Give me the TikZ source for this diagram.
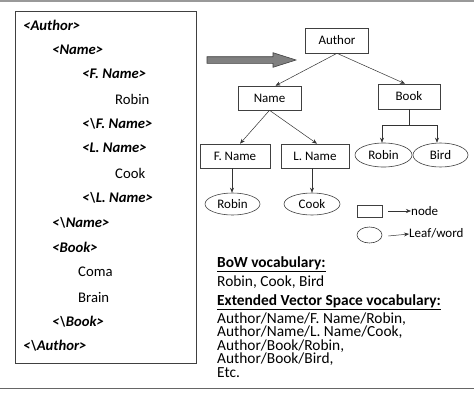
\documentclass[tikz,border=0pt]{standalone}
\usepackage{fontspec}
\setmainfont{Carlito}
\usetikzlibrary{arrows.meta,shapes.geometric}
\begin{document}
\begin{tikzpicture}[x=1pt,y=-1pt,
  tag/.style={anchor=west,inner sep=0pt,font=\fontsize{14.7}{16}\selectfont\bfseries\itshape},
  word/.style={anchor=west,inner sep=0pt,font=\fontsize{14.7}{16}\selectfont},
  tbox/.style={draw=black!75,line width=0.6pt,minimum height=24pt,inner sep=1pt,font=\fontsize{13}{14}\selectfont},
  tell/.style={draw=black!75,line width=0.6pt,ellipse,minimum height=22pt,inner sep=0pt,font=\fontsize{13}{14}\selectfont},
  edge/.style={draw=black!80,line width=0.5pt},
  arr/.style={edge,-{Stealth[length=5pt,width=4pt]}},
  txt/.style={anchor=base west,inner sep=0pt,text height=9pt,text depth=2.5pt,font=\fontsize{15.4}{13.5}\selectfont}
]
\useasboundingbox (0,0) rectangle (474,402);
\fill[white] (0,0) rectangle (474,402);
% top and bottom rules
\fill[black!40] (0,0) rectangle (474,2);
\draw[black!60,line width=0.8pt] (0,388) -- (474,388);
% left XML box
\node[draw=black!75,line width=0.6pt,minimum width=181pt,minimum height=352pt,inner sep=0pt] (xml) at (105.5,187) {};
\node[tag] (t1) at (23,25) {<Author>};
\node[tag] (t2) at (52,50) {<Name>};
\node[tag] (t3) at (82,74) {<F. Name>};
\node[word] (t4) at (115,99) {Robin};
\node[tag] (t5) at (82,124) {<\textbackslash F. Name>};
\node[tag] (t6) at (82,148) {<L. Name>};
\node[word] (t7) at (115,173) {Cook};
\node[tag] (t8) at (82,198) {<\textbackslash L. Name>};
\node[tag] (t9) at (52,223) {<\textbackslash Name>};
\node[tag] (t10) at (52,247) {<Book>};
\node[word] (t11) at (78,272) {Coma};
\node[word] (t12) at (78,297) {Brain};
\node[tag] (t13) at (52,322) {<\textbackslash Book>};
\node[tag] (t14) at (23,346) {<\textbackslash Author>};
% big arrow
\draw[black!75,fill=black!50,line width=0.6pt] (207,56.7) -- (273,56.7) -- (273,52.7) -- (296,60) -- (273,67.3) -- (273,63.3) -- (207,63.3) -- cycle;
% tree
\node[tbox,minimum width=63pt,minimum height=25pt] (au) at (337,40.5) {Author};
\node[tbox,minimum width=63pt] (nm) at (269.5,98) {Name};
\node[tbox,minimum width=62pt,minimum height=25pt] (bk) at (409,96.5) {Book};
\node[tbox,minimum width=70pt] (fn) at (235,156) {F. Name};
\node[tbox,minimum width=68pt] (ln) at (315,156) {L. Name};
\node[tell,minimum width=57pt,minimum height=24pt] (rb) at (383.5,155) {Robin};
\node[tell,minimum width=55pt,minimum height=24pt] (bd) at (440.5,155) {Bird};
\node[tell,minimum width=55pt] (r1) at (232.5,204) {Robin};
\node[tell,minimum width=56pt] (ck) at (312,204) {Cook};
\draw[arr] (au.south) -- ([xshift=6pt]nm.north);
\draw[arr] (au.south) -- ([xshift=-4pt]bk.north);
\draw[arr] (nm.south) -- ([xshift=5pt]fn.north);
\draw[arr] (nm.south) -- ([xshift=2pt]ln.north);
\draw[edge] (bk.south) -- ++(0,16) coordinate (bj);
\draw[edge] ([xshift=-1.5pt]bj -| rb) -- ([xshift=-3.5pt]bj -| bd);
\draw[arr] ([xshift=-1.5pt]bj -| rb) -- ([xshift=-1.5pt]rb.north);
\draw[arr] ([xshift=-3.5pt]bj -| bd) -- ([xshift=-3.5pt]bd.north);
\draw[arr] ([xshift=-3pt]fn.south) -- ([xshift=-0.5pt]r1.north);
\draw[arr] ([xshift=-3pt]ln.south) -- (ck.north);
% legend
\node[draw=black!75,line width=0.6pt,minimum width=25pt,minimum height=12pt,inner sep=0pt] (lr) at (369.5,211) {};
\node[draw=black!75,line width=0.6pt,ellipse,minimum width=25pt,minimum height=16pt,inner sep=0pt] (le) at (369.5,235) {};
\node[anchor=west,inner sep=0pt,font=\fontsize{13}{14}\selectfont] (ln1) at (411,211) {node};
\node[anchor=west,inner sep=0pt,font=\fontsize{13}{14}\selectfont] (ln2) at (409,233) {Leaf/word};
\draw[arr] ([xshift=6pt]lr.east) -- (ln1.west);
\draw[arr] ([xshift=6pt,yshift=-1pt]le.east) -- ([yshift=-1pt]ln2.west);
% vocabulary texts
\node[txt,font=\fontsize{15.4}{16}\selectfont\bfseries] (bow) at (217,267) {\underline{BoW vocabulary:}};
\node[txt] (bowl) at (217,286) {Robin, Cook, Bird};
\node[txt,font=\fontsize{15.4}{16}\selectfont\bfseries] (ext) at (217,305) {\underline{Extended Vector Space vocabulary:}};
\node[txt] (e1) at (217,323) {Author/Name/F. Name/Robin,};
\node[txt] (e2) at (217,336.5) {Author/Name/L. Name/Cook,};
\node[txt] (e3) at (217,350) {Author/Book/Robin,};
\node[txt] (e4) at (217,363.5) {Author/Book/Bird,};
\node[txt] (e5) at (217,377) {Etc.};
\end{tikzpicture}
\end{document}
